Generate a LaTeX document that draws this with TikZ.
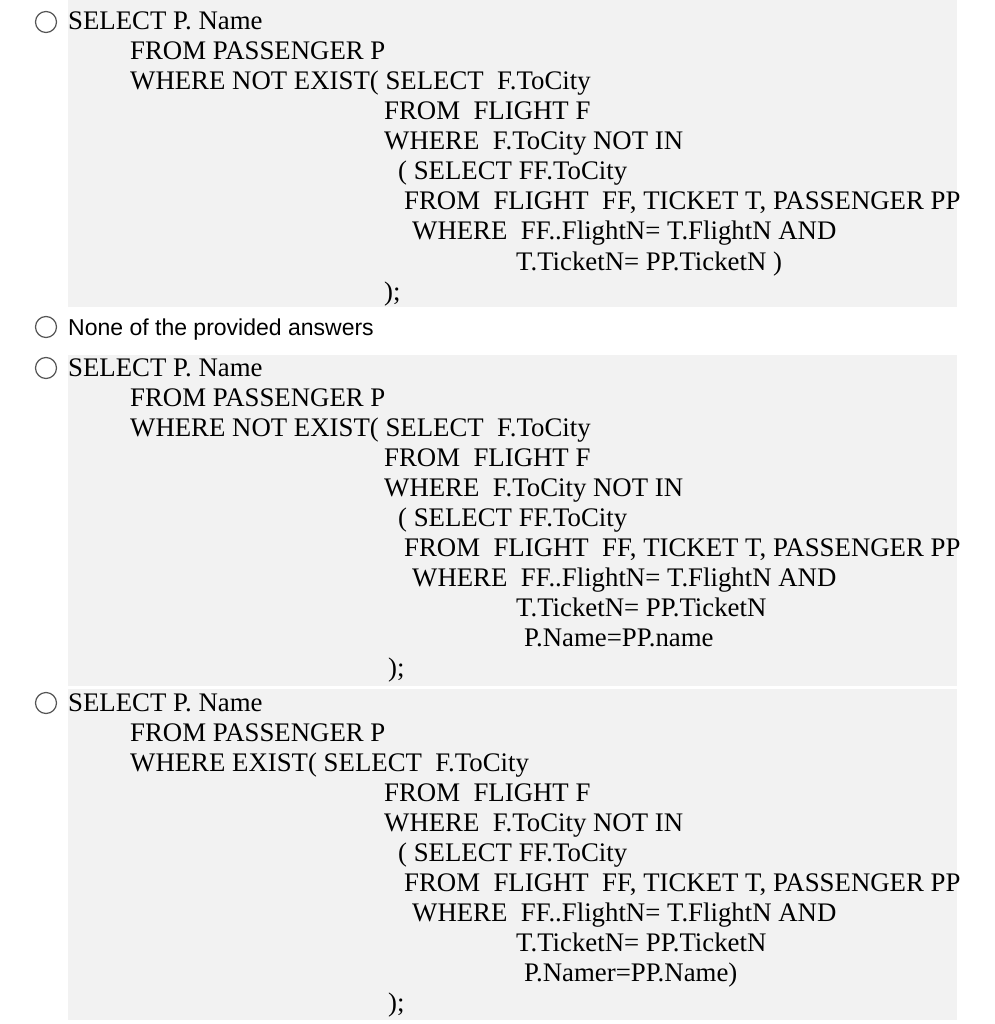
\documentclass[tikz,border=0pt]{standalone}
\usepackage{fontspec}
\setmainfont{Liberation Serif}
\newfontfamily\uisans{Liberation Sans}
\definecolor{panel}{HTML}{F2F2F2}
\definecolor{ring}{HTML}{555555}
\begin{document}
\begin{tikzpicture}[x=1pt,y=-1pt,
  sq/.style={anchor=base west,inner sep=0pt,font=\fontsize{26.8}{26.8}\selectfont},
  radio/.style={circle,draw=ring,line width=1.2pt,minimum size=21pt,inner sep=0pt},
  panelbox/.style={fill=panel,draw=none}]
\useasboundingbox (0,0) rectangle (994,1024);
\fill[white] (0,0) rectangle (994,1024);
\fill[panelbox] (68,0) rectangle (957,307);
\fill[panelbox] (68,355) rectangle (957,686);
\fill[panelbox] (68,689) rectangle (957,1020);
\node[radio] (r1) at (46,22) {};
\node[radio] (r2) at (46,327) {};
\node[radio] (r3) at (46,368) {};
\node[radio] (r4) at (46,703) {};
% block 1
\node[sq] (a1) at (68,30) {SELECT P. Name};
\node[sq] (a2) at (130,60) {FROM PASSENGER P};
\node[sq] (a3) at (130,90) {WHERE NOT EXIST( SELECT\ \ F.ToCity};
\node[sq] (a4) at (384,120) {FROM\ \ FLIGHT F};
\node[sq] (a5) at (384,150) {WHERE\ \ F.ToCity NOT IN};
\node[sq] (a6) at (398,180) {( SELECT FF.ToCity};
\node[sq] (a7) at (404,210) {FROM\ \ FLIGHT\ \ FF, TICKET T, PASSENGER PP};
\node[sq] (a8) at (412,240) {WHERE\ \ FF..FlightN= T.FlightN AND};
\node[sq] (a9) at (516,270) {T.TicketN= PP.TicketN )};
\node[sq] (a10) at (384,300) {);};
\node[anchor=base west,inner sep=0pt,font=\uisans\fontsize{23}{23}\selectfont] (none) at (68,335) {None of the provided answers};
% block 2
\node[sq] (b1) at (68,376) {SELECT P. Name};
\node[sq] (b2) at (130,406) {FROM PASSENGER P};
\node[sq] (b3) at (130,436) {WHERE NOT EXIST( SELECT\ \ F.ToCity};
\node[sq] (b4) at (384,466) {FROM\ \ FLIGHT F};
\node[sq] (b5) at (384,496) {WHERE\ \ F.ToCity NOT IN};
\node[sq] (b6) at (398,526) {( SELECT FF.ToCity};
\node[sq] (b7) at (404,556) {FROM\ \ FLIGHT\ \ FF, TICKET T, PASSENGER PP};
\node[sq] (b8) at (412,586) {WHERE\ \ FF..FlightN= T.FlightN AND};
\node[sq] (b9) at (516,616) {T.TicketN= PP.TicketN};
\node[sq] (b10) at (524,646) {P.Name=PP.name};
\node[sq] (b11) at (388,676) {);};
% block 3
\node[sq] (c1) at (68,711) {SELECT P. Name};
\node[sq] (c2) at (130,741) {FROM PASSENGER P};
\node[sq] (c3) at (130,771) {WHERE EXIST( SELECT\ \ F.ToCity};
\node[sq] (c4) at (384,801) {FROM\ \ FLIGHT F};
\node[sq] (c5) at (384,831) {WHERE\ \ F.ToCity NOT IN};
\node[sq] (c6) at (398,861) {( SELECT FF.ToCity};
\node[sq] (c7) at (404,891) {FROM\ \ FLIGHT\ \ FF, TICKET T, PASSENGER PP};
\node[sq] (c8) at (412,921) {WHERE\ \ FF..FlightN= T.FlightN AND};
\node[sq] (c9) at (516,951) {T.TicketN= PP.TicketN};
\node[sq] (c10) at (524,981) {P.Namer=PP.Name)};
\node[sq] (c11) at (388,1011) {);};
\end{tikzpicture}
\end{document}
